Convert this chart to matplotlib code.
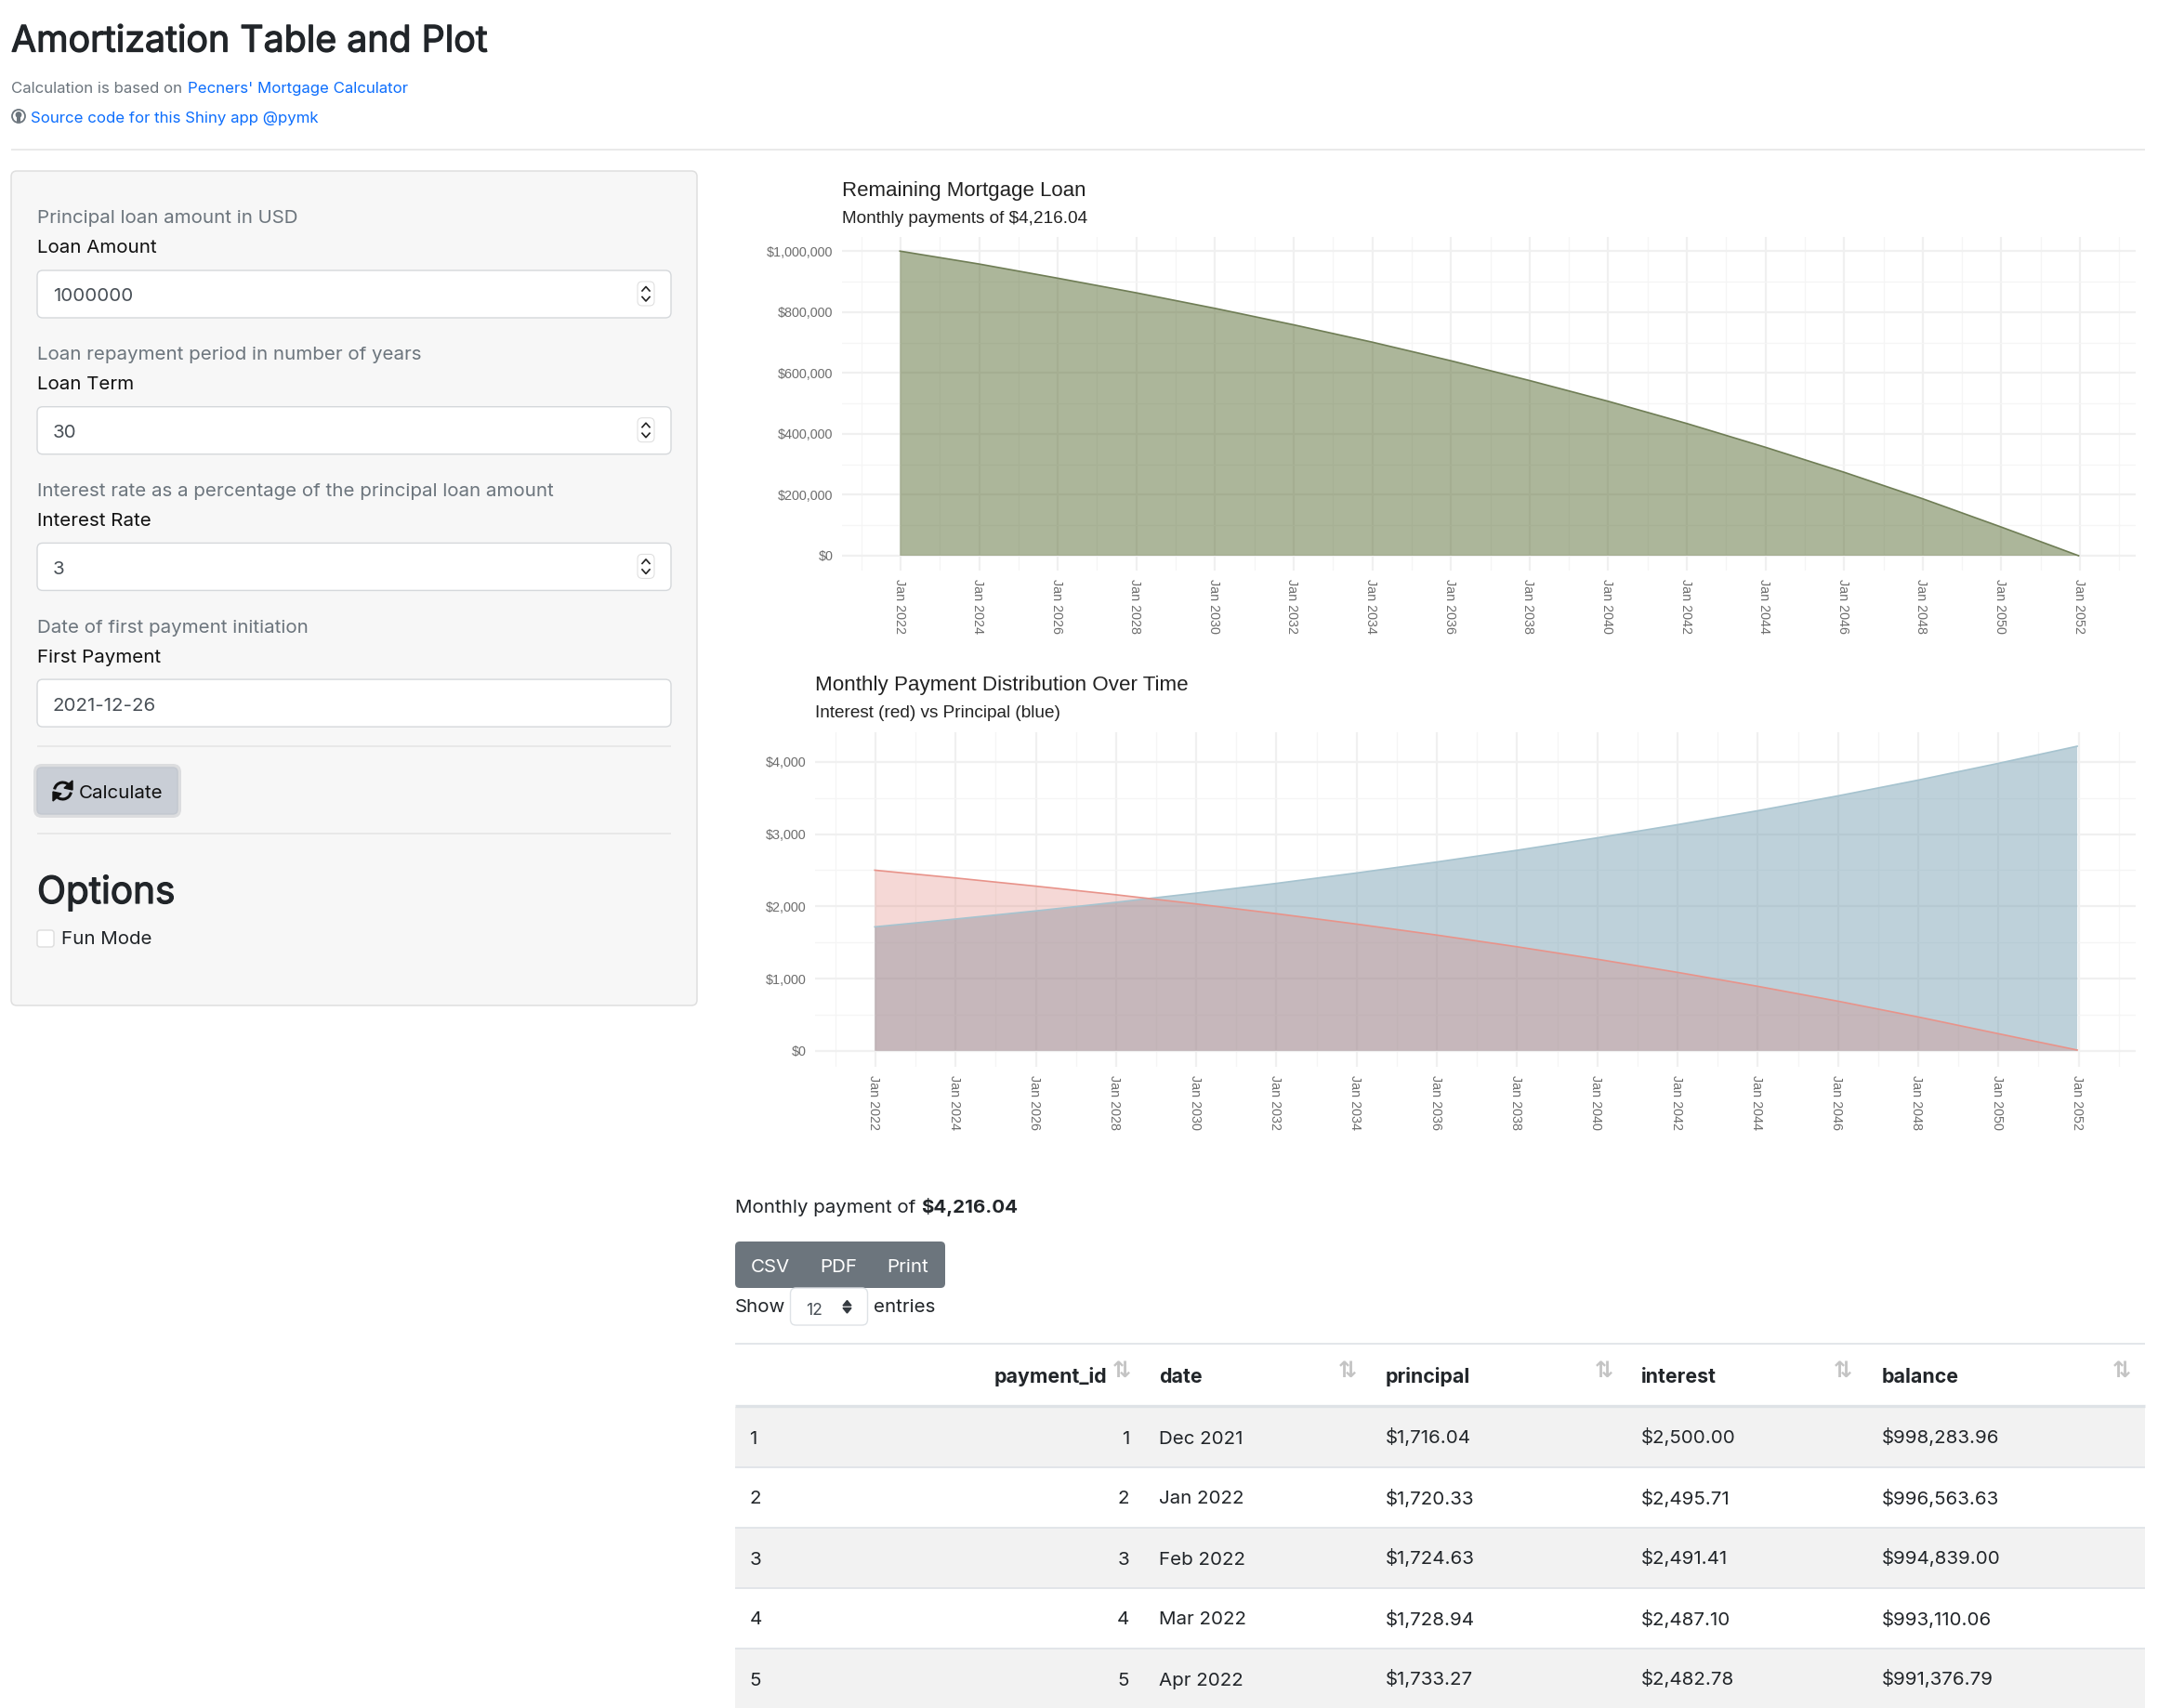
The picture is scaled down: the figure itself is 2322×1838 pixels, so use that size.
import matplotlib
matplotlib.use('Agg')
import matplotlib.pyplot as plt
import matplotlib.dates as mdates
import matplotlib.patheffects as pe
from matplotlib.patches import FancyBboxPatch, Rectangle, Circle, Arc, Polygon
from matplotlib.transforms import ScaledTranslation
import pandas as pd

W = 2322
H = 1838

# chart data at the two-year ticks
dates = ['2021-12-26', '2024-01-01', '2026-01-01', '2028-01-01', '2030-01-01', '2032-01-01', '2034-01-01', '2036-01-01',
	'2038-01-01', '2040-01-01', '2042-01-01', '2044-01-01', '2046-01-01', '2048-01-01', '2050-01-01', '2051-12-20']
balance = [1000000, 957600, 911000, 863000, 812000, 758000, 701000, 640000, 575000, 507000, 434000, 356000, 274000, 187000, 94000, 0]
principal = [1716, 1824, 1937, 2056, 2183, 2318, 2462, 2614, 2776, 2948, 3130, 3323, 3529, 3747, 3979, 4216]
interest = [2500, 2392, 2279, 2160, 2033, 1898, 1754, 1602, 1440, 1268, 1086, 893, 687, 469, 237, 11]

tick_years = list(range(2022, 2053, 2))
minor_years = list(range(2021, 2054, 2))
balance_ticks = [0, 200000, 400000, 600000, 800000, 1000000]
balance_minor = [100000, 300000, 500000, 700000, 900000]
payment_ticks = [0, 1000, 2000, 3000, 4000]
payment_minor = [500, 1500, 2500, 3500]

# table data
columns = ['payment_id', 'date', 'principal', 'interest', 'balance']
row_ids = ['1', '2', '3', '4', '5']
row_dates = ['Dec 2021', 'Jan 2022', 'Feb 2022', 'Mar 2022', 'Apr 2022']
row_principal = ['$1,716.04', '$1,720.33', '$1,724.63', '$1,728.94', '$1,733.27']
row_interest = ['$2,500.00', '$2,495.71', '$2,491.41', '$2,487.10', '$2,482.78']
row_balance = ['$998,283.96', '$996,563.63', '$994,839.00', '$993,110.06', '$991,376.79']

# sidebar inputs
help_texts = ['Principal loan amount in USD', 'Loan repayment period in number of years',
	'Interest rate as a percentage of the principal loan amount', 'Date of first payment initiation']
input_labels = ['Loan Amount', 'Loan Term', 'Interest Rate', 'First Payment']
input_values = ['1000000', '30', '3', '2021-12-26']

DARK = '#212529'
GREY = '#6c757d'
BLUE = '#0d6efd'
LINE = '#dee2e6'
BODY = 20.55
SMALL = 16.85

fig = plt.figure(figsize=(W / 100, H / 100), dpi=100, facecolor='white')

# page axes in pixel coordinates, everything that is not a chart goes here
page = fig.add_axes([0, 0, 1, 1])
page.set_xlim(0, W)
page.set_ylim(H, 0)
page.axis('off')


def txt(x, y, s, px=BODY, color=DARK, weight='normal', ha='left', family='Inter'):
	return page.text(x, y, s, fontsize=px * 0.72, color=color, fontweight=weight, ha=ha, va='baseline', family=family)


def heavy(t, color=DARK, w=0.9):
	# the regular Inter is lighter than the page headings
	t.set_path_effects([pe.withStroke(linewidth=w, foreground=color)])


def box(x0, y0, x1, y1, face, edge='none', r=6, lw=1.0):
	p = FancyBboxPatch((x0 + r, y0 + r), x1 - x0 - 2 * r, y1 - y0 - 2 * r, boxstyle='round,pad=%g,rounding_size=%g' % (r, r),
		facecolor=face, edgecolor=edge, linewidth=lw)
	page.add_patch(p)
	return p


def hline(y, x0, x1, color='#e6e6e6', lw=1.2):
	page.plot([x0, x1], [y, y], color=color, lw=lw, solid_capstyle='butt')


# header
heavy(txt(12, 55.5, 'Amortization Table and Plot', px=39.3))
txt(12, 100, 'Calculation is based on ', px=SMALL, color=GREY)
txt(202, 100, "Pecners' Mortgage Calculator", px=SMALL, color=BLUE)
page.add_patch(Circle((20, 125), 7, facecolor='white', edgecolor=GREY, linewidth=1.3))
page.add_patch(Circle((20, 123.5), 3.4, facecolor=GREY, edgecolor='none'))
page.add_patch(Rectangle((18, 125), 4, 6, facecolor=GREY, edgecolor='none'))
txt(33, 132, 'Source code for this Shiny app @pymk', px=SMALL, color=BLUE)
hline(161, 12, 2308)

# sidebar
box(12, 184, 750, 1082, '#f7f7f7', edge='#dfdfdf', lw=1.1)
for i in range(4):
	dy = 146.7 * i
	txt(40, 240.5 + dy, help_texts[i], color=GREY)
	txt(40, 272.5 + dy, input_labels[i], color='#111111')
	box(40, 291 + dy, 722, 342 + dy, 'white', edge='#d5d8db', lw=1.0)
	txt(57, 324.5 + dy, input_values[i], color='#495057')
	if i < 3:
		box(686, 303 + dy, 704, 329 + dy, 'white', edge='#dcdcdc', r=5, lw=0.7)
		page.plot([691, 695, 699], [313 + dy, 308.5 + dy, 313 + dy], color='#222222', lw=1.2)
		page.plot([691, 695, 699], [319.5 + dy, 324 + dy, 319.5 + dy], color='#222222', lw=1.2)
hline(803, 40, 722)
box(36, 822, 195, 880, '#dcdddf', r=9)
box(40, 826, 191, 876, '#c9ced6', edge='#c3c8d0', r=5)
page.add_patch(Arc((67.5, 851), 18, 18, theta1=190, theta2=330, color='#111111', lw=2.2))
page.add_patch(Arc((67.5, 851), 18, 18, theta1=10, theta2=150, color='#111111', lw=2.2))
page.add_patch(Polygon([(78, 840), (78, 850), (69, 848)], closed=True, color='#111111'))
page.add_patch(Polygon([(57, 862), (57, 852), (66, 854)], closed=True, color='#111111'))
txt(84.5, 859, 'Calculate', color='#111111')
hline(897, 40, 722)
heavy(txt(40, 972, 'Options', px=40.5))
box(40, 1001, 58, 1019, 'white', edge='#dddddd', r=3)
txt(66, 1015.5, 'Fun Mode')

# table and controls under the charts
txt(791, 1305, 'Monthly payment of ')
txt(991.5, 1305, '$4,216.04', weight='bold')
box(791, 1336, 1017, 1386, GREY, r=5)
txt(808, 1369, 'CSV', color='white')
txt(882, 1369, 'PDF', color='white')
txt(954, 1369, 'Print', color='white')
txt(791, 1411.5, 'Show')
box(850.5, 1386, 933.5, 1426, 'white', edge='#dee2e6', r=6)
txt(867, 1415, '12', px=17.5, color='#495057')
page.add_patch(Polygon([(907, 1405), (916, 1405), (911.5, 1399.5)], closed=True, color='#343a40'))
page.add_patch(Polygon([(907, 1407.5), (916, 1407.5), (911.5, 1413)], closed=True, color='#343a40'))
txt(940, 1411.5, 'entries')

hline(1446, 791, 2308, color=LINE)
header_x = [1191, 1247, 1490.5, 1766, 2025]
sort_x = [1207, 1450, 1725.5, 1983, 2283]
for i in range(5):
	txt(header_x[i], 1487.5, columns[i], px=21.3, weight='bold', ha='right' if i == 0 else 'left')
	txt(sort_x[i], 1482, '\u21c5', px=24, color='#c4c4c4', weight='bold', ha='center', family='DejaVu Sans')

row_h = 65
for i in range(5):
	top = 1514 + row_h * i
	if i % 2 == 0:
		page.add_patch(Rectangle((791, top), 1517, row_h, facecolor='#f2f2f2', edgecolor='none'))
	hline(top + row_h, 791, 2308, color=LINE)
	base = 1553.5 + row_h * i
	txt(806.5, base, row_ids[i])
	txt(1215, base, row_ids[i], ha='right')
	txt(1247, base, row_dates[i])
	txt(1490.5, base, row_principal[i])
	txt(1766, base, row_interest[i])
	txt(2025, base, row_balance[i])
hline(1512.5, 791, 2308, color=LINE, lw=2.4)


def chart(left, right, top, bottom, x22, x52, y0_px, yt_px, yt_val, yticks, yminor):
	ax = fig.add_axes([left / W, 1 - bottom / H, (right - left) / W, (bottom - top) / H])
	ax.patch.set_alpha(0)
	d22 = mdates.date2num(pd.Timestamp('2022-01-01'))
	d52 = mdates.date2num(pd.Timestamp('2052-01-01'))
	per_px = (d52 - d22) / (x52 - x22)
	ax.set_xlim(d22 - (x22 - left) * per_px, d52 + (right - x52) * per_px)
	val_px = yt_val / (y0_px - yt_px)
	ax.set_ylim(-(bottom - y0_px) * val_px, (y0_px - top) * val_px)

	ax.set_xticks([mdates.date2num(pd.Timestamp(y, 1, 1)) for y in tick_years])
	ax.set_xticks([mdates.date2num(pd.Timestamp(y, 1, 1)) for y in minor_years], minor=True)
	ax.set_xticklabels(['Jan %d' % y for y in tick_years])
	ax.set_yticks(yticks)
	ax.set_yticks(yminor, minor=True)
	ax.set_yticklabels(['${:,}'.format(v) for v in yticks])
	ax.tick_params(axis='both', which='both', length=0)
	ax.tick_params(axis='x', which='major', labelrotation=270, pad=6.5, labelsize=10.4, labelcolor='#6e6e6e')
	ax.tick_params(axis='y', which='major', pad=7, labelsize=10.4, labelcolor='#6e6e6e')
	for lab in ax.get_xticklabels() + ax.get_yticklabels():
		lab.set_family('Liberation Sans')
	shift = ScaledTranslation(-1.5 / 100, 0, fig.dpi_scale_trans)
	for lab in ax.get_xticklabels():
		lab.set_transform(lab.get_transform() + shift)
	ax.grid(True, which='major', color='#f0f0f0', lw=1.6)
	ax.grid(True, which='minor', color='#f5f5f5', lw=1.0)
	ax.set_axisbelow(True)
	for s in ax.spines.values():
		s.set_visible(False)
	return ax


x = mdates.date2num(pd.to_datetime(dates))

# remaining loan
ax1 = chart(906, 2298, 254.5, 614, 969, 2238, 598, 270.2, 1000000, balance_ticks, balance_minor)
ax1.fill_between(x, 0, balance, facecolor='#53672d', alpha=0.48, linewidth=0)
ax1.plot(x, balance, color='#6f7d55', lw=1.2)
txt(906, 210.5, 'Remaining Mortgage Loan', px=22.3, color='#222222', family='Liberation Sans')
txt(906, 240, 'Monthly payments of $4,216.04', px=19, color='#222222', family='Liberation Sans')

# principal vs interest
ax2 = chart(877, 2298, 787.5, 1147.5, 942, 2236.5, 1130.8, 819.8, 4000, payment_ticks, payment_minor)
ax2.fill_between(x, 0, principal, facecolor='#759fb1', alpha=0.47, linewidth=0)
ax2.plot(x, principal, color='#a6c3cf', lw=1.2)
ax2.fill_between(x, 0, interest, facecolor='#dd766c', alpha=0.28, linewidth=0)
ax2.plot(x, interest, color='#e8938a', lw=1.2)
txt(877, 743, 'Monthly Payment Distribution Over Time', px=22.4, color='#222222', family='Liberation Sans')
txt(877, 772.5, 'Interest (red) vs Principal (blue)', px=19, color='#222222', family='Liberation Sans')

fig.savefig('out.png', dpi=100, facecolor='white')
